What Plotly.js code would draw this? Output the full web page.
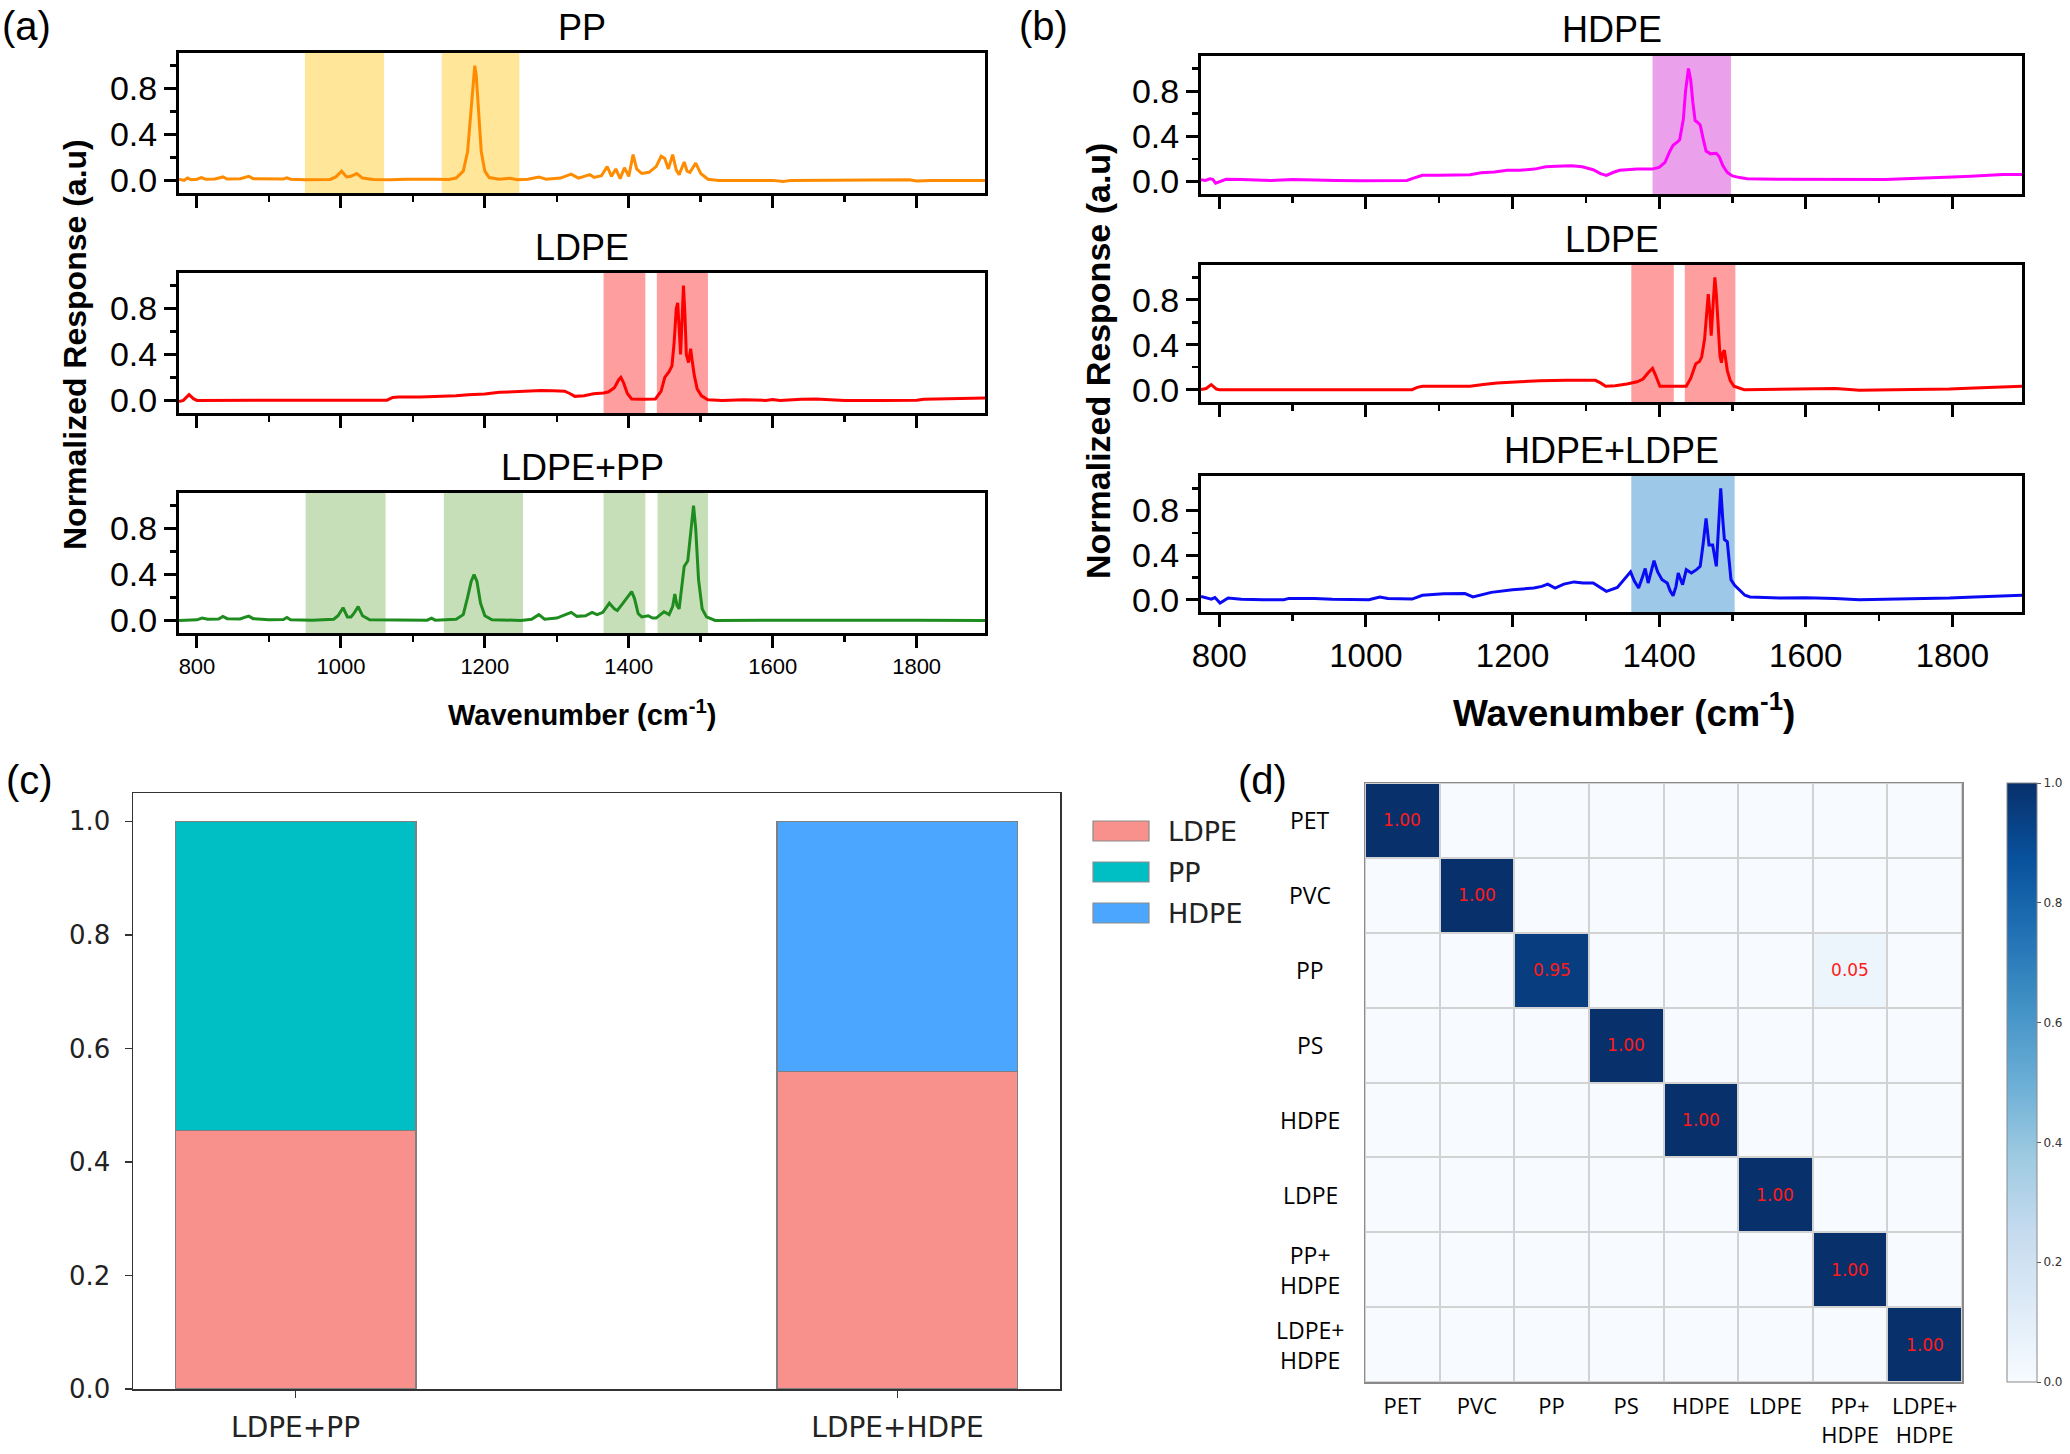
<!DOCTYPE html>
<html><head><meta charset="utf-8">
<script src="https://cdn.plot.ly/plotly-3.0.1.min.js"></script>
<style>html,body{margin:0;padding:0;background:#fff;} #chart{width:2070px;height:1454px;}</style>
</head><body><div id="chart"></div>
<script>
// ---------------- DATA ----------------
// (a) PP spectrum
const ppX = [775,782,787,792,800,806,812,825,836,842,860,868,872,878,900,920,925,930,950,985,993,1001,1008,1014,1022,1030,1045,1070,1090,1110,1130,1150,1160,1170,1176,1180,1184,1186,1188,1191,1195,1200,1206,1220,1235,1245,1260,1275,1285,1305,1320,1330,1346,1352,1362,1370,1376,1382,1388,1394,1400,1406,1411,1418,1428,1438,1445,1450,1455,1461,1466,1470,1477,1481,1485,1493,1500,1510,1525,1600,1615,1625,1700,1760,1790,1800,1820,1895];
const ppY = [0.01,0.0,0.02,0.005,0.01,0.025,0.01,0.012,0.03,0.012,0.015,0.03,0.035,0.015,0.01,0.012,0.022,0.01,0.005,0.008,0.03,0.08,0.03,0.035,0.06,0.02,0.008,0.005,0.01,0.012,0.01,0.008,0.02,0.08,0.25,0.55,0.9,1.0,0.92,0.6,0.25,0.08,0.025,0.01,0.018,0.005,0.01,0.03,0.01,0.02,0.055,0.02,0.05,0.025,0.04,0.12,0.035,0.1,0.015,0.11,0.035,0.225,0.1,0.06,0.07,0.12,0.21,0.19,0.1,0.225,0.09,0.05,0.16,0.08,0.07,0.15,0.06,0.01,0.0,0.0,-0.01,0.0,0.0,0.002,0.005,-0.005,0.0,0.0];
// (a) LDPE spectrum
const ldpeAX = [775,781,789,795,800,850,950,1050,1064,1072,1080,1110,1140,1160,1177,1200,1220,1235,1255,1278,1295,1311,1318,1325,1338,1351,1365,1372,1380,1386,1389,1393,1398,1404,1420,1437,1445,1450,1456,1460,1463,1466,1468,1470,1472,1474,1476,1478,1480,1483,1486,1488,1491,1495,1501,1510,1530,1560,1590,1600,1610,1640,1660,1680,1700,1750,1800,1810,1850,1895];
const ldpeAY = [-0.01,0.0,0.05,0.015,0.0,0.0,0.0,0.0,0.002,0.025,0.03,0.03,0.035,0.04,0.05,0.055,0.07,0.075,0.08,0.085,0.083,0.08,0.06,0.035,0.04,0.057,0.065,0.075,0.11,0.18,0.2,0.15,0.06,0.012,0.01,0.012,0.08,0.2,0.25,0.3,0.5,0.8,0.85,0.6,0.4,0.7,1.0,0.75,0.4,0.33,0.45,0.35,0.22,0.1,0.04,0.005,0.0,0.005,0.0,0.008,0.0,0.01,0.012,0.005,-0.002,0.0,0.002,0.01,0.012,0.02];
// (a) LDPE+PP spectrum
const mixAX = [775,800,807,815,830,836,842,860,868,872,878,900,920,925,930,960,990,996,1003,1009,1014,1018,1024,1030,1040,1090,1120,1126,1131,1160,1170,1176,1181,1185,1189,1194,1200,1210,1250,1265,1275,1283,1300,1312,1320,1328,1340,1349,1356,1364,1373,1380,1384,1392,1400,1404,1408,1413,1418,1427,1433,1438,1444,1449,1456,1461,1464,1467,1470,1474,1477,1482,1486,1490,1493,1497,1502,1508,1520,1600,1700,1800,1895];
const mixAY = [0.0,0.005,0.02,0.01,0.012,0.035,0.015,0.012,0.03,0.037,0.015,0.005,0.008,0.025,0.005,0.002,0.01,0.04,0.11,0.03,0.03,0.06,0.12,0.04,0.005,0.0,0.002,0.02,0.002,0.01,0.05,0.2,0.34,0.4,0.34,0.15,0.04,0.005,0.0,0.01,0.05,0.01,0.02,0.05,0.07,0.035,0.04,0.07,0.05,0.07,0.15,0.1,0.085,0.15,0.21,0.25,0.19,0.06,0.03,0.04,0.02,0.02,0.05,0.075,0.05,0.12,0.23,0.13,0.1,0.3,0.47,0.52,0.75,1.0,0.8,0.35,0.1,0.03,0.0,0.002,0.0,0.002,0.0];
// (b) HDPE spectrum
const hdpeX = [775,781,787,791,795,800,809,830,850,870,900,930,960,990,1010,1030,1056,1065,1077,1100,1120,1142,1157,1175,1193,1210,1230,1245,1260,1281,1295,1310,1320,1328,1337,1346,1370,1390,1400,1408,1414,1419,1425,1428,1433,1436,1440,1443,1446,1449,1453,1456,1460,1464,1470,1478,1482,1487,1493,1500,1510,1520,1560,1600,1640,1680,1709,1735,1760,1800,1825,1850,1869,1895];
const hdpeY = [0.015,0.01,0.025,0.02,-0.015,0.0,0.02,0.018,0.015,0.01,0.018,0.012,0.01,0.008,0.01,0.012,0.01,0.03,0.055,0.055,0.06,0.06,0.077,0.085,0.1,0.1,0.11,0.13,0.135,0.14,0.13,0.105,0.07,0.055,0.08,0.1,0.11,0.11,0.125,0.17,0.26,0.32,0.35,0.37,0.55,0.8,1.0,0.9,0.7,0.54,0.52,0.5,0.38,0.27,0.245,0.25,0.22,0.14,0.08,0.05,0.035,0.025,0.02,0.02,0.022,0.018,0.018,0.025,0.033,0.04,0.047,0.055,0.062,0.063];
// (b) LDPE spectrum
const ldpeBX = [775,782,789,796,800,900,1000,1063,1070,1077,1110,1142,1160,1179,1210,1237,1273,1313,1320,1327,1340,1356,1370,1378,1385,1391,1395,1401,1420,1437,1443,1450,1455,1458,1462,1465,1467,1469,1471,1474,1476,1478,1480,1483,1485,1487,1489,1491,1493,1497,1502,1516,1560,1580,1600,1640,1660,1673,1720,1796,1830,1860,1895];
const ldpeBY = [0.0,0.01,0.045,0.005,0.0,0.0,0.0,0.0,0.02,0.03,0.03,0.03,0.045,0.06,0.07,0.08,0.083,0.083,0.06,0.03,0.035,0.05,0.07,0.095,0.15,0.19,0.13,0.03,0.03,0.03,0.1,0.23,0.25,0.29,0.45,0.7,0.85,0.7,0.48,0.8,1.0,0.85,0.6,0.3,0.24,0.33,0.35,0.25,0.17,0.08,0.03,0.0,0.002,0.008,0.005,0.01,0.002,-0.005,0.0,0.005,0.015,0.02,0.03];
// (b) HDPE+LDPE spectrum
const mixBX = [775,781,789,794,801,812,830,860,888,895,930,954,980,1004,1019,1030,1063,1077,1106,1125,1135,1146,1160,1171,1200,1215,1229,1240,1248,1258,1270,1284,1296,1310,1320,1328,1343,1352,1361,1366,1372,1377,1381,1385,1389,1393,1398,1404,1411,1415,1419,1423,1426,1432,1437,1444,1451,1456,1460,1464,1468,1473,1478,1482,1484,1487,1489,1493,1498,1503,1509,1517,1524,1564,1600,1640,1673,1720,1760,1796,1830,1860,1895];
const mixBY = [0.03,0.02,0.005,0.02,-0.03,0.015,0.005,0.0,0.0,0.012,0.012,0.005,0.0,0.0,0.025,0.012,0.006,0.04,0.054,0.055,0.055,0.025,0.05,0.066,0.09,0.1,0.105,0.12,0.14,0.105,0.14,0.16,0.15,0.15,0.11,0.075,0.11,0.18,0.25,0.17,0.105,0.2,0.28,0.15,0.26,0.35,0.25,0.18,0.15,0.08,0.035,0.12,0.24,0.135,0.27,0.24,0.27,0.3,0.5,0.73,0.49,0.49,0.3,0.7,1.0,0.7,0.54,0.52,0.18,0.13,0.09,0.04,0.025,0.015,0.018,0.012,0.0,0.005,0.01,0.015,0.025,0.035,0.04];

// highlighted wavenumber bands [start, end]
const ppBands    = [[950,1060],[1140,1248]];
const ldpeABands = [[1365,1423],[1439,1510]];
const mixABands  = [[951,1062],[1143,1253],[1365,1423],[1440,1510]];
const hdpeBands  = [[1391,1498]];
const ldpeBBands = [[1362,1420],[1435,1504]];
const mixBBands  = [[1362,1503]];

// (c) composition of mixtures
const mixCats   = ['LDPE+PP','LDPE+HDPE'];
const ldpeShare = [0.455, 0.56];
const ppShare   = [0.545, null];
const hdpeShare = [null, 0.44];

// (d) confusion matrix
const cmLabels = ['PET','PVC','PP','PS','HDPE','LDPE','PP+<br>HDPE','LDPE+<br>HDPE'];
const cmRows = [
  [1,0,0,0,0,0,0,0],
  [0,1,0,0,0,0,0,0],
  [0,0,0.95,0,0,0,0.05,0],
  [0,0,0,1,0,0,0,0],
  [0,0,0,0,1,0,0,0],
  [0,0,0,0,0,1,0,0],
  [0,0,0,0,0,0,1,0],
  [0,0,0,0,0,0,0,1]
];
const cbTicks = [0,0.2,0.4,0.6,0.8,1.0];

// ---------------- LAYOUT ----------------
const W = 2070, H = 1454;
const fx = p => p / W, fy = p => 1 - p / H;
const SANS = 'Liberation Sans, Arial, Helvetica, sans-serif';
const DJV = 'DejaVu Sans, sans-serif';
const OPS = 'Open Sans, sans-serif';
const C_LDPE = '#F8918B', C_PP = '#00BFC4', C_HDPE = '#4AA6FF';

const specPanels = [
  {title:'PP',        x:ppX,    y:ppY,    color:'#FF8C00', band:'#FFE699', bands:ppBands,    box:[179,985,53,193],   labels:false, tfs:22},
  {title:'LDPE',      x:ldpeAX, y:ldpeAY, color:'#FF0000', band:'#FF9E9E', bands:ldpeABands, box:[179,985,273,413],  labels:false, tfs:22},
  {title:'LDPE+PP',   x:mixAX,  y:mixAY,  color:'#1E8C1E', band:'#C6DFB9', bands:mixABands,  box:[179,985,493,633],  labels:true,  tfs:22},
  {title:'HDPE',      x:hdpeX,  y:hdpeY,  color:'#FF00FF', band:'#EAA0EA', bands:hdpeBands,  box:[1201,2022,56,194], labels:false, tfs:33},
  {title:'LDPE',      x:ldpeBX, y:ldpeBY, color:'#FF0000', band:'#FF9E9E', bands:ldpeBBands, box:[1201,2022,265,402],labels:false, tfs:33},
  {title:'HDPE+LDPE', x:mixBX,  y:mixBY,  color:'#0A0AF5', band:'#9DC8E8', bands:mixBBands,  box:[1201,2022,476,612],labels:true,  tfs:33}
];

const data = [];
const layout = {
  width: W, height: H,
  margin: {l:0, r:0, t:0, b:0, autoexpand:false},
  paper_bgcolor: '#fff', plot_bgcolor: '#fff',
  font: {family: SANS, color: '#000'},
  showlegend: false,
  barmode: 'stack',
  shapes: [], annotations: []
};

specPanels.forEach((p, i) => {
  const n = i + 1, s = n === 1 ? '' : String(n);
  const [l, r, t, b] = p.box;
  data.push({type:'scatter', mode:'lines', x:p.x, y:p.y, xaxis:'x'+s, yaxis:'y'+s,
    line:{color:p.color, width:3}, hoverinfo:'skip', showlegend:false});
  layout['xaxis'+s] = {
    domain:[fx(l), fx(r)], anchor:'y'+s, range:[775,1895],
    tickmode:'linear', tick0:800, dtick:200, ticks:'outside', ticklen:12, tickwidth:3, tickcolor:'#000',
    minor:{tick0:800, dtick:100, ticks:'outside', ticklen:6, tickwidth:2.5, tickcolor:'#000'},
    showline:true, mirror:true, linecolor:'#000', linewidth:3,
    showgrid:false, zeroline:false, showticklabels:p.labels,
    tickfont:{family:SANS, size:p.tfs, color:'#000'}, fixedrange:true
  };
  layout['yaxis'+s] = {
    domain:[fy(b), fy(t)], anchor:'x'+s, range:[-0.11,1.11],
    tickmode:'linear', tick0:0, dtick:0.4, tickformat:'.1f',
    ticks:'outside', ticklen:12, tickwidth:3, tickcolor:'#000',
    minor:{tick0:0, dtick:0.2, ticks:'outside', ticklen:6, tickwidth:2.5, tickcolor:'#000'},
    showline:true, mirror:true, linecolor:'#000', linewidth:3,
    showgrid:false, zeroline:false,
    tickfont:{family:SANS, size:34, color:'#000'}, fixedrange:true
  };
  p.bands.forEach(bd => layout.shapes.push({type:'rect', xref:'x'+s, yref:'y'+s+' domain',
    x0:bd[0], x1:bd[1], y0:0, y1:1, fillcolor:p.band, line:{width:0}, layer:'below'}));
  layout.annotations.push({text:p.title, xref:'paper', yref:'paper', x:fx((l+r)/2), y:fy(t-26),
    xanchor:'center', yanchor:'middle', showarrow:false, font:{family:SANS, size:36, color:'#000'}});
});

// axis titles for (a) and (b)
const wnTitle = '<b>Wavenumber (cm<sup>-1</sup>)</b>';
const nrTitle = '<b>Normalized Response (a.u)</b>';
layout.annotations.push(
  {text:nrTitle, xref:'paper', yref:'paper', x:fx(75), y:fy(345), textangle:-90, showarrow:false, xanchor:'center', yanchor:'middle', font:{family:SANS, size:32}},
  {text:wnTitle, xref:'paper', yref:'paper', x:fx(582), y:fy(713), showarrow:false, xanchor:'center', yanchor:'middle', font:{family:SANS, size:29}},
  {text:nrTitle, xref:'paper', yref:'paper', x:fx(1098), y:fy(361), textangle:-90, showarrow:false, xanchor:'center', yanchor:'middle', font:{family:SANS, size:34}},
  {text:wnTitle, xref:'paper', yref:'paper', x:fx(1624), y:fy(710), showarrow:false, xanchor:'center', yanchor:'middle', font:{family:SANS, size:37}}
);
// panel letters
[['(a)',26,26],['(b)',1043,26],['(c)',29,780],['(d)',1262,780]].forEach(a =>
  layout.annotations.push({text:a[0], xref:'paper', yref:'paper', x:fx(a[1]), y:fy(a[2]), showarrow:false,
    xanchor:'center', yanchor:'middle', font:{family:SANS, size:40, color:'#000'}}));

// ---------------- (c) stacked bars ----------------
const barSeries = [
  {name:'LDPE', y:ldpeShare, color:C_LDPE},
  {name:'PP',   y:ppShare,   color:C_PP},
  {name:'HDPE', y:hdpeShare, color:C_HDPE}
];
barSeries.forEach(bs => data.push({type:'bar', name:bs.name, x:mixCats, y:bs.y, width:0.4,
  xaxis:'x7', yaxis:'y7', marker:{color:bs.color, line:{color:'#808080', width:1.2}}, hoverinfo:'skip'}));
layout.xaxis7 = {domain:[fx(133), fx(1060)], anchor:'y7', type:'category', range:[-0.27,1.27],
  ticks:'outside', ticklen:7, tickwidth:1.5, tickcolor:'#333', showline:true, mirror:true, linecolor:'#333', linewidth:1.5,
  showgrid:false, zeroline:false, ticklabelstandoff:6, tickfont:{family:DJV, size:28, color:'#222'}, fixedrange:true};
layout.yaxis7 = {domain:[fy(1389), fy(793)], anchor:'x7', range:[0,1.05], tickmode:'array', tickvals:[0,0.2,0.4,0.6,0.8,1.0],
  tickformat:'.1f', ticks:'outside', ticklen:7, tickwidth:1.5, tickcolor:'#333', showline:true, mirror:true, linecolor:'#333', linewidth:1.5,
  showgrid:false, zeroline:false, tickfont:{family:DJV, size:26, color:'#222'}, ticklabelstandoff:9, fixedrange:true};
// legend for (c)
barSeries.forEach((bs, k) => {
  const cy = 831 + k * 41;
  layout.shapes.push({type:'rect', xref:'paper', yref:'paper', x0:fx(1093), x1:fx(1149), y0:fy(cy+10), y1:fy(cy-10),
    fillcolor:bs.color, line:{color:'#8c8c8c', width:1.2}});
  layout.annotations.push({text:bs.name, xref:'paper', yref:'paper', x:fx(1166), y:fy(cy), xanchor:'left', yanchor:'middle',
    showarrow:false, font:{family:DJV, size:27, color:'#222'}});
});

// ---------------- (d) confusion matrix ----------------
const blues = [[0,'#f7fbff'],[0.125,'#deebf7'],[0.25,'#c6dbef'],[0.375,'#9ecae1'],[0.5,'#6baed6'],
  [0.625,'#4292c6'],[0.75,'#2171b5'],[0.875,'#08519c'],[1,'#08306b']];
const cmText = cmRows.map(r => r.map(v => v > 0 ? v.toFixed(2) : ''));
const HM_TOP = 783, HM_BOT = 1382;
data.push({type:'heatmap', x:cmLabels, y:cmLabels, z:cmRows, text:cmText, texttemplate:'%{text}',
  textfont:{family:DJV, size:17, color:'#ff1a1a'}, colorscale:blues, zmin:0, zmax:1, xgap:2, ygap:2,
  xaxis:'x8', yaxis:'y8', hoverinfo:'skip',
  colorbar:{x:fx(2007), xanchor:'left', y:fy(HM_TOP), yanchor:'top', len:(HM_BOT-HM_TOP)/H, lenmode:'fraction', thickness:30,
    xpad:0, ypad:0, outlinecolor:'#888', outlinewidth:1, tickmode:'array', tickvals:cbTicks, tickformat:'.1f',
    ticks:'outside', ticklen:4, tickcolor:'#555', tickfont:{family:DJV, size:12, color:'#333'}}});
layout.xaxis8 = {domain:[fx(1365), fx(1962)], anchor:'y8', type:'category', ticks:'', showline:true, mirror:true,
  linecolor:'#8a8a8a', linewidth:1.5, showgrid:false, zeroline:false, ticklabelstandoff:4,
  tickfont:{family:OPS, size:22, color:'#000'}, fixedrange:true};
layout.yaxis8 = {domain:[fy(HM_BOT), fy(HM_TOP)], anchor:'x8', type:'category', autorange:'reversed', ticks:'', showline:true, mirror:true,
  linecolor:'#8a8a8a', linewidth:1.5, showgrid:false, zeroline:false, showticklabels:false, fixedrange:true};
// row labels, centred in a column left of the matrix (positioned on the y8 category scale)
cmLabels.forEach((lab, k) => layout.annotations.push({text:lab, xref:'paper', yref:'y8', x:fx(1310), y:k,
  xanchor:'center', yanchor:'middle', align:'center', showarrow:false, font:{family:OPS, size:23, color:'#000'}}));
layout.shapes.push({type:'rect', xref:'x8 domain', yref:'y8 domain', x0:0, x1:1, y0:0, y1:1,
  fillcolor:'#d2d2d2', line:{width:0}, layer:'below'});

Plotly.newPlot('chart', data, layout, {displayModeBar:false, staticPlot:true});
</script>
</body></html>
